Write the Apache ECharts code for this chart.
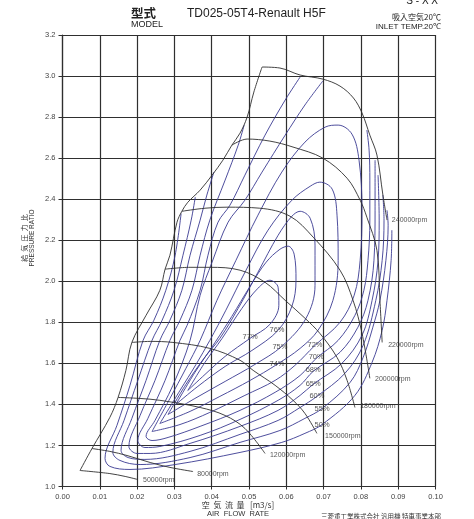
<!DOCTYPE html>
<html>
<head>
<meta charset="utf-8">
<title>TD025-05T4-Renault H5F compressor map</title>
<script src="https://cdn.jsdelivr.net/npm/echarts@6/dist/echarts.min.js"></script>
<style>
  html, body { margin: 0; padding: 0; background: #fff; }
  #map { width: 474px; height: 519px; }
</style>
</head>
<body>
<div id="map"></div>
<script>
// all points are [air flow m3/s, pressure ratio]

// efficiency islands, innermost first
const eff77 = [[0.0336,1.468],[0.0382,1.605],[0.0428,1.722],[0.0481,1.868],[0.0524,1.966],[0.0556,2.005],[0.0578,1.971],[0.0580,1.883],[0.0556,1.790],[0.0503,1.722],[0.0436,1.634],[0.0382,1.546],[0.0336,1.468]]
const eff76 = [[0.0304,1.400],[0.0355,1.556],[0.0409,1.702],[0.0454,1.829],[0.0503,1.976],[0.0546,2.093],[0.0583,2.156],[0.0605,2.171],[0.0621,2.132],[0.0626,2.005],[0.0615,1.878],[0.0578,1.761],[0.0508,1.663],[0.0436,1.585],[0.0363,1.488],[0.0304,1.400]]
const eff75 = [[0.0283,1.351],[0.0331,1.498],[0.0379,1.624],[0.0422,1.722],[0.0471,1.868],[0.0524,2.044],[0.0578,2.224],[0.0615,2.317],[0.0637,2.341],[0.0664,2.307],[0.0677,2.176],[0.0677,1.980],[0.0653,1.820],[0.0588,1.683],[0.0516,1.595],[0.0436,1.512],[0.0355,1.429],[0.0283,1.351]]
const eff74 = [[0.0261,1.307],[0.0315,1.468],[0.0358,1.595],[0.0395,1.712],[0.0438,1.859],[0.0492,2.054],[0.0551,2.249],[0.0615,2.395],[0.0664,2.463],[0.0690,2.483],[0.0723,2.449],[0.0736,2.322],[0.0739,2.102],[0.0725,1.907],[0.0685,1.761],[0.0637,1.673],[0.0575,1.595],[0.0503,1.517],[0.0422,1.439],[0.0342,1.366],[0.0261,1.307]]
const eff72 = [[0.0240,1.268],[0.0288,1.429],[0.0331,1.576],[0.0369,1.712],[0.0414,1.907],[0.0465,2.102],[0.0524,2.322],[0.0588,2.532],[0.0650,2.678],[0.0704,2.751],[0.0739,2.761],[0.0776,2.717],[0.0795,2.590],[0.0803,2.346],[0.0798,2.102],[0.0782,1.932],[0.0744,1.800],[0.0677,1.688],[0.0623,1.590],[0.0570,1.517],[0.0489,1.444],[0.0395,1.361],[0.0315,1.302],[0.0240,1.268]]
const eff70 = [[0.0698,2.976],[0.0650,2.859],[0.0597,2.712],[0.0535,2.532],[0.0489,2.395],[0.0444,2.288],[0.0401,2.093],[0.0369,1.932],[0.0342,1.712],[0.0296,1.493],[0.0248,1.322],[0.0224,1.244],[0.0240,1.224],[0.0283,1.239],[0.0369,1.293],[0.0476,1.371],[0.0570,1.459],[0.0637,1.541],[0.0680,1.624],[0.0739,1.712],[0.0784,1.834],[0.0808,1.956],[0.0819,2.102],[0.0824,2.298],[0.0824,2.493],[0.0822,2.639],[0.0816,2.737]]
const eff68 = [[0.0637,2.995],[0.0597,2.883],[0.0543,2.712],[0.0489,2.517],[0.0449,2.371],[0.0417,2.288],[0.0390,2.127],[0.0369,1.956],[0.0334,1.785],[0.0315,1.712],[0.0275,1.517],[0.0229,1.332],[0.0202,1.224],[0.0221,1.190],[0.0261,1.195],[0.0369,1.249],[0.0476,1.327],[0.0578,1.420],[0.0637,1.493],[0.0672,1.561],[0.0744,1.654],[0.0792,1.776],[0.0819,1.907],[0.0835,2.102],[0.0838,2.346],[0.0838,2.590]]
const eff65 = [[0.0487,2.761],[0.0471,2.663],[0.0436,2.493],[0.0395,2.298],[0.0369,2.127],[0.0347,1.956],[0.0315,1.810],[0.0288,1.712],[0.0248,1.517],[0.0208,1.346],[0.0178,1.195],[0.0200,1.161],[0.0235,1.161],[0.0342,1.210],[0.0476,1.293],[0.0578,1.371],[0.0637,1.444],[0.0672,1.498],[0.0749,1.600],[0.0803,1.737],[0.0830,1.907],[0.0846,2.102],[0.0849,2.298],[0.0846,2.517]]
const eff60 = [[0.0406,2.532],[0.0387,2.420],[0.0369,2.298],[0.0342,2.127],[0.0320,1.956],[0.0288,1.810],[0.0261,1.712],[0.0224,1.517],[0.0186,1.332],[0.0157,1.176],[0.0176,1.141],[0.0221,1.132],[0.0342,1.171],[0.0476,1.254],[0.0578,1.322],[0.0637,1.385],[0.0682,1.439],[0.0757,1.551],[0.0806,1.688],[0.0840,1.907],[0.0857,2.102],[0.0862,2.298],[0.0859,2.420]]
const eff55 = [[0.0356,2.410],[0.0345,2.298],[0.0323,2.127],[0.0299,1.956],[0.0267,1.810],[0.0240,1.712],[0.0202,1.517],[0.0165,1.322],[0.0135,1.166],[0.0154,1.127],[0.0208,1.107],[0.0342,1.141],[0.0476,1.215],[0.0583,1.273],[0.0650,1.332],[0.0696,1.380],[0.0771,1.507],[0.0806,1.629],[0.0832,1.776],[0.0851,1.907],[0.0867,2.102],[0.0873,2.273],[0.0870,2.346]]
const eff50 = [[0.0318,2.330],[0.0302,2.127],[0.0277,1.956],[0.0245,1.810],[0.0216,1.712],[0.0181,1.493],[0.0146,1.298],[0.0114,1.137],[0.0127,1.098],[0.0181,1.083],[0.0302,1.107],[0.0476,1.166],[0.0588,1.215],[0.0650,1.259],[0.0696,1.302],[0.0784,1.444],[0.0830,1.605],[0.0857,1.761],[0.0870,1.907],[0.0881,2.102],[0.0883,2.249]]

// surge line and speed lines
const surgeLine = [[0.0047,1.078],[0.0079,1.185],[0.0127,1.337],[0.0149,1.434],[0.0170,1.566],[0.0186,1.702],[0.0224,1.834],[0.0261,1.956],[0.0275,2.059],[0.0288,2.127],[0.0307,2.288],[0.0320,2.341],[0.0336,2.385],[0.0369,2.444],[0.0401,2.517],[0.0430,2.590],[0.0454,2.663],[0.0476,2.722],[0.0495,2.800],[0.0513,2.922],[0.0535,3.044]]
const speed240 = [[0.0535,3.044],[0.0583,3.039],[0.0637,3.005],[0.0698,2.985],[0.0744,2.951],[0.0780,2.893],[0.0803,2.820],[0.0824,2.712],[0.0843,2.615],[0.0859,2.420],[0.0870,2.298]]
const speed220 = [[0.0454,2.663],[0.0495,2.693],[0.0556,2.683],[0.0618,2.654],[0.0698,2.600],[0.0763,2.502],[0.0798,2.395],[0.0816,2.312],[0.0843,2.151],[0.0851,1.907],[0.0857,1.702]]
const speed200 = [[0.0320,2.341],[0.0382,2.356],[0.0441,2.361],[0.0529,2.356],[0.0610,2.317],[0.0672,2.215],[0.0744,2.054],[0.0779,1.907],[0.0803,1.746],[0.0824,1.527]]
const speed180 = [[0.0275,2.059],[0.0342,2.068],[0.0395,2.068],[0.0476,2.054],[0.0543,1.995],[0.0597,1.907],[0.0650,1.820],[0.0690,1.746],[0.0736,1.629],[0.0763,1.517],[0.0784,1.385]]
const speed150 = [[0.0186,1.702],[0.0235,1.707],[0.0296,1.702],[0.0395,1.673],[0.0476,1.615],[0.0511,1.566],[0.0570,1.493],[0.0618,1.420],[0.0650,1.356],[0.0682,1.259]]
const speed120 = [[0.0149,1.434],[0.0208,1.429],[0.0261,1.420],[0.0369,1.385],[0.0436,1.346],[0.0489,1.283],[0.0543,1.161]]
const speed80 = [[0.0079,1.185],[0.0127,1.171],[0.0173,1.151],[0.0235,1.117],[0.0288,1.093],[0.0350,1.073]]
const speed50 = [[0.0047,1.078],[0.0127,1.063],[0.0168,1.049],[0.0202,1.034]]

// labels
const effLabels = ['77%','76%','75%','74%','72%','70%','68%','65%','60%','55%','50%']
const effLabelFlow = [0.0503,0.0575,0.0583,0.0575,0.0677,0.0680,0.0672,0.0672,0.0682,0.0696,0.0696]
const effLabelPR = [1.727,1.761,1.678,1.595,1.688,1.629,1.566,1.498,1.439,1.380,1.302]

const speedLabels = ['240000rpm','220000rpm','200000rpm','180000rpm','150000rpm','120000rpm','80000rpm','50000rpm']
const speedLabelFlow = [0.0883,0.0873,0.0838,0.0798,0.0704,0.0556,0.0361,0.0216]
const speedLabelPR = [2.298,1.688,1.522,1.390,1.244,1.151,1.063,1.029]

const latin = '"Liberation Sans", Arial, sans-serif'
const cjk = '"Noto Sans CJK JP", "Liberation Sans", sans-serif'
const blue = '#3a3a92'
const dark = '#2f2f2f'

function curve(data, color, z) {
  return {
    type: 'line', data, showSymbol: false, smooth: 0.35, silent: true,
    lineStyle: { color, width: 0.9 }, z
  }
}

function textPoints(names, xs, ys, pos, size) {
  return {
    type: 'scatter', symbolSize: 0, silent: true, z: 6,
    data: names.map((n, i) => ({ name: n, value: [xs[i], ys[i]] })),
    label: {
      show: true, position: pos, distance: 0, formatter: '{b}',
      fontFamily: latin, fontSize: size, color: '#2a2a2a'
    }
  }
}

const effLines = [eff77, eff76, eff75, eff74, eff72, eff70, eff68, eff65, eff60, eff55, eff50]
const speedLines = [surgeLine, speed240, speed220, speed200, speed180, speed150, speed120, speed80, speed50]

const chart = echarts.init(document.getElementById('map'))
chart.setOption({
  animation: false,
  backgroundColor: '#fff',
  grid: { left: 62.5, right: 38.5, top: 35, bottom: 32.5 },
  xAxis: {
    type: 'value', min: 0, max: 0.1, interval: 0.01,
    axisLine: { lineStyle: { color: dark, width: 1.2 } },
    axisTick: { show: true, length: 3, lineStyle: { color: dark } },
    splitLine: { show: true, lineStyle: { color: dark, width: 1.2 } },
    axisLabel: { formatter: v => v.toFixed(2), fontFamily: latin, fontSize: 7.5, color: '#444', margin: 6 }
  },
  yAxis: {
    type: 'value', min: 1.0, max: 3.2, interval: 0.2,
    axisLine: { show: true, lineStyle: { color: dark, width: 1.2 } },
    axisTick: { show: true, length: 4, lineStyle: { color: dark } },
    splitLine: { show: true, lineStyle: { color: dark, width: 1.2 } },
    axisLabel: { formatter: v => v.toFixed(1), fontFamily: latin, fontSize: 7.5, color: '#444', margin: 7 }
  },
  series: [
    ...effLines.map(d => curve(d, blue, 3)),
    ...speedLines.map(d => curve(d, dark, 4)),
    textPoints(effLabels, effLabelFlow, effLabelPR, 'inside', 7.5),
    textPoints(speedLabels, speedLabelFlow, speedLabelPR, 'right', 7)
  ],
  graphic: [
    { type: 'text', x: 131, y: 13, style: { text: '型式', fontFamily: cjk, fontSize: 12.5, fontWeight: 'bold', fill: '#222', align: 'left', verticalAlign: 'middle' } },
    { type: 'text', x: 131, y: 25, style: { text: 'MODEL', fontFamily: latin, fontSize: 9, fill: '#222', align: 'left', verticalAlign: 'middle' } },
    { type: 'text', x: 187, y: 14, style: { text: 'TD025-05T4-Renault H5F', fontFamily: latin, fontSize: 12, fill: '#222', align: 'left', verticalAlign: 'middle' } },
    { type: 'text', x: 438, y: 1, style: { text: 'S - X X', fontFamily: latin, fontSize: 10, fill: '#222', align: 'right', verticalAlign: 'middle' } },
    { type: 'text', x: 441, y: 17, style: { text: '吸入空気20℃', fontFamily: cjk, fontSize: 8, fill: '#222', align: 'right', verticalAlign: 'middle' } },
    { type: 'text', x: 441, y: 27, style: { text: 'INLET TEMP.20℃', fontFamily: latin, fontSize: 8, fill: '#222', align: 'right', verticalAlign: 'middle' } },
    { type: 'text', x: 24, y: 238, rotation: Math.PI / 2, style: { text: '給  気  圧  力  比', fontFamily: cjk, fontSize: 7, fill: '#333', align: 'center', verticalAlign: 'middle' } },
    { type: 'text', x: 32, y: 238, rotation: Math.PI / 2, style: { text: 'PRESSURE RATIO', fontFamily: latin, fontSize: 6.5, fill: '#333', align: 'center', verticalAlign: 'middle' } },
    { type: 'text', x: 238, y: 505, style: { text: '空  気  流  量   [m3/s]', fontFamily: cjk, fontSize: 8, fill: '#333', align: 'center', verticalAlign: 'middle' } },
    { type: 'text', x: 238, y: 514, style: { text: 'AIR  FLOW  RATE', fontFamily: latin, fontSize: 7.5, fill: '#333', align: 'center', verticalAlign: 'middle' } },
    { type: 'text', x: 441, y: 517, style: { text: '三菱重工業株式会社 汎用機 特車事業本部', fontFamily: cjk, fontSize: 6.5, fill: '#333', align: 'right', verticalAlign: 'middle' } }
  ]
})
</script>
</body>
</html>
